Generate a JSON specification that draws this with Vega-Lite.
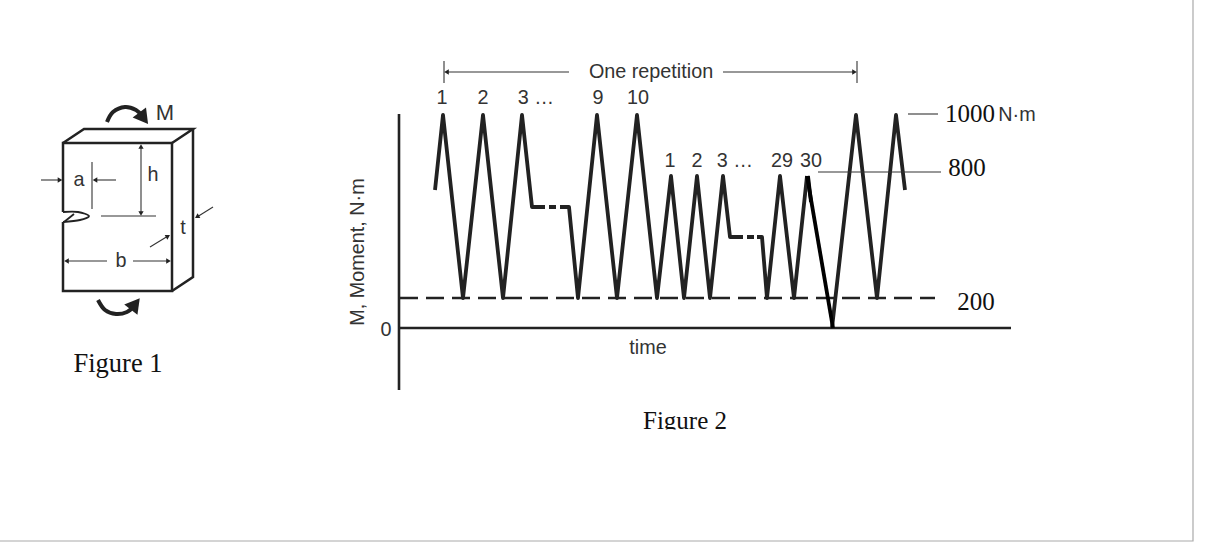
{
"$schema":"https://vega.github.io/schema/vega-lite/v6.json",
"width":1215,"height":545,"padding":0,"autosize":{"type":"none"},"background":"white",
"config":{"view":{"stroke":null}},
"datasets":{
"zig":[
{"path":"a","i":1,"x":435,"y":190},{"path":"a","i":2,"x":443,"y":115},{"path":"a","i":3,"x":463,"y":298},{"path":"a","i":4,"x":483,"y":115},{"path":"a","i":5,"x":503,"y":298},{"path":"a","i":6,"x":522,"y":115},{"path":"a","i":7,"x":532,"y":207},{"path":"a","i":8,"x":538,"y":207},
{"path":"b","i":1,"x":564,"y":207},{"path":"b","i":2,"x":569,"y":207},{"path":"b","i":3,"x":578,"y":298},{"path":"b","i":4,"x":597,"y":115},{"path":"b","i":5,"x":617,"y":298},{"path":"b","i":6,"x":637,"y":115},{"path":"b","i":7,"x":657,"y":298},{"path":"b","i":8,"x":671,"y":176},{"path":"b","i":9,"x":684,"y":298},{"path":"b","i":10,"x":697,"y":176},{"path":"b","i":11,"x":710,"y":298},{"path":"b","i":12,"x":723,"y":176},{"path":"b","i":13,"x":730,"y":237},{"path":"b","i":14,"x":736,"y":237},
{"path":"c","i":1,"x":757,"y":237},{"path":"c","i":2,"x":762,"y":237},{"path":"c","i":3,"x":767,"y":298},{"path":"c","i":4,"x":780,"y":176},{"path":"c","i":5,"x":794,"y":298},{"path":"c","i":6,"x":807,"y":176},
{"path":"d","i":1,"x":832,"y":328},{"path":"d","i":2,"x":856,"y":115},{"path":"d","i":3,"x":877,"y":298},{"path":"d","i":4,"x":896,"y":115},{"path":"d","i":5,"x":905,"y":190}
],
"dots":[
{"path":"a","i":1,"x":538,"y":207},{"path":"a","i":2,"x":564,"y":207},
{"path":"b","i":1,"x":736,"y":237},{"path":"b","i":2,"x":757,"y":237}
],
"black":[
{"path":"a","i":1,"x":807,"y":176},{"path":"a","i":2,"x":833,"y":328},
{"path":"b","i":1,"x":808,"y":176},{"path":"b","i":2,"x":811,"y":202}
],
"levels":[{"i":1,"x":400,"y":298},{"i":2,"x":935,"y":298}],
"axes":[
{"path":"y","i":1,"x":399,"y":114},{"path":"y","i":2,"x":399,"y":390},
{"path":"x","i":1,"x":399,"y":328},{"path":"x","i":2,"x":1011,"y":328}
],
"thin":[
{"path":"r1","i":1,"x":444,"y":61},{"path":"r1","i":2,"x":444,"y":83},
{"path":"r2","i":1,"x":857,"y":61},{"path":"r2","i":2,"x":857,"y":83},
{"path":"r3","i":1,"x":446,"y":72},{"path":"r3","i":2,"x":569,"y":72},
{"path":"r4","i":1,"x":723,"y":72},{"path":"r4","i":2,"x":855,"y":72},
{"path":"l1","i":1,"x":908,"y":114},{"path":"l1","i":2,"x":938,"y":114},
{"path":"l2","i":1,"x":818,"y":172},{"path":"l2","i":2,"x":941,"y":172},
{"path":"a1","i":1,"x":41,"y":180},{"path":"a1","i":2,"x":60,"y":180},
{"path":"a2","i":1,"x":116,"y":180},{"path":"a2","i":2,"x":95,"y":180},
{"path":"a3","i":1,"x":92,"y":162},{"path":"a3","i":2,"x":92,"y":209},
{"path":"h1","i":1,"x":141,"y":146},{"path":"h1","i":2,"x":141,"y":214},
{"path":"h2","i":1,"x":101,"y":216},{"path":"h2","i":2,"x":156,"y":216},
{"path":"t1","i":1,"x":150,"y":247},{"path":"t1","i":2,"x":168,"y":236},
{"path":"t2","i":1,"x":213,"y":207},{"path":"t2","i":2,"x":197,"y":217},
{"path":"b1","i":1,"x":66,"y":261},{"path":"b1","i":2,"x":107,"y":261},
{"path":"b2","i":1,"x":133,"y":261},{"path":"b2","i":2,"x":169,"y":261}
],
"body":[
{"path":"f","i":1,"x":63,"y":212},{"path":"f","i":2,"x":63,"y":143},{"path":"f","i":3,"x":172,"y":143},{"path":"f","i":4,"x":172,"y":291},{"path":"f","i":5,"x":63,"y":291},{"path":"f","i":6,"x":63,"y":222},
{"path":"t","i":1,"x":63,"y":143},{"path":"t","i":2,"x":84,"y":129},{"path":"t","i":3,"x":193,"y":129},{"path":"t","i":4,"x":172,"y":143},
{"path":"s","i":1,"x":193,"y":129},{"path":"s","i":2,"x":193,"y":277},{"path":"s","i":3,"x":172,"y":291}
],
"notch":[
{"path":"n1","i":1,"x":63,"y":212},{"path":"n1","i":2,"x":78,"y":212},{"path":"n1","i":3,"x":89,"y":216},{"path":"n1","i":4,"x":80,"y":220},{"path":"n1","i":5,"x":63,"y":222},
{"path":"n2","i":1,"x":64,"y":222},{"path":"n2","i":2,"x":74,"y":214}
],
"curves":[
{"path":"top","i":1,"x":107,"y":122},{"path":"top","i":2,"x":113,"y":112},{"path":"top","i":3,"x":125,"y":107},{"path":"top","i":4,"x":136,"y":110},{"path":"top","i":5,"x":142,"y":116},
{"path":"bot","i":1,"x":98,"y":300},{"path":"bot","i":2,"x":105,"y":310},{"path":"bot","i":3,"x":116,"y":314},{"path":"bot","i":4,"x":127,"y":312},{"path":"bot","i":5,"x":134,"y":306}
],
"bigheads":[{"x":143.7,"y":118.3,"angle":143},{"x":135.3,"y":304,"angle":38}],
"heads":[
{"x":446.5,"y":72,"angle":270},{"x":854.5,"y":72,"angle":90},
{"x":60,"y":180,"angle":90},{"x":95,"y":180,"angle":270},
{"x":141,"y":146.5,"angle":0},{"x":141,"y":213.5,"angle":180},
{"x":66.5,"y":261,"angle":270},{"x":168.5,"y":261,"angle":90},
{"x":168,"y":236.2,"angle":59},{"x":197,"y":216.8,"angle":239}
],
"sans":[
{"x":651,"y":72,"label":"One repetition"},
{"x":442,"y":98,"label":"1"},{"x":483,"y":98,"label":"2"},{"x":536,"y":98,"label":"3 …"},{"x":598,"y":98,"label":"9"},{"x":638,"y":98,"label":"10"},
{"x":670,"y":161,"label":"1"},{"x":697,"y":161,"label":"2"},{"x":735,"y":161,"label":"3 …"},{"x":782,"y":161,"label":"29"},{"x":811,"y":161,"label":"30"},
{"x":386,"y":330,"label":"0"},{"x":648,"y":348,"label":"time"},{"x":1017,"y":115,"label":"N·m"},
{"x":79,"y":180,"label":"a"},{"x":153,"y":175,"label":"h"},{"x":183,"y":228,"label":"t"},{"x":121,"y":261,"label":"b"}
],
"big":[{"x":165,"y":113,"label":"M"}],
"rotated":[{"x":358,"y":252,"label":"M, Moment, N·m"}],
"serif":[
{"x":685,"y":421,"label":"Figure 2"},
{"x":970,"y":114,"label":"1000"},{"x":967,"y":168,"label":"800"},{"x":976,"y":302,"label":"200"}
],
"serif2":[{"x":118,"y":364,"label":"Figure 1"}],
"frame":[{"i":1,"x":0,"y":541},{"i":2,"x":1193,"y":541},{"i":3,"x":1193,"y":0}],
"mask":[{"x":635,"x2":735,"y":429.5,"y2":445}]
},
"encoding":{
"x":{"field":"x","type":"quantitative","scale":{"domain":[0,1215],"nice":false,"zero":false},"axis":null},
"y":{"field":"y","type":"quantitative","scale":{"domain":[545,0],"nice":false,"zero":false},"axis":null}
},
"layer":[
{"data":{"name":"frame"},"mark":{"type":"line","stroke":"#aaaaaa","strokeWidth":1.2,"clip":false},"encoding":{"order":{"field":"i"}}},
{"data":{"name":"axes"},"mark":{"type":"line","stroke":"#222222","strokeWidth":2.6},"encoding":{"detail":{"field":"path"},"order":{"field":"i"}}},
{"data":{"name":"levels"},"mark":{"type":"line","stroke":"#222222","strokeWidth":2.4,"strokeDash":[18,8]},"encoding":{"order":{"field":"i"}}},
{"data":{"name":"zig"},"mark":{"type":"line","stroke":"#222222","strokeWidth":3.8,"strokeJoin":"round"},"encoding":{"detail":{"field":"path"},"order":{"field":"i"}}},
{"data":{"name":"dots"},"mark":{"type":"line","stroke":"#222222","strokeWidth":3.8,"strokeDash":[7,4]},"encoding":{"detail":{"field":"path"},"order":{"field":"i"}}},
{"data":{"name":"black"},"mark":{"type":"line","stroke":"#000000","strokeWidth":3.8,"strokeJoin":"round"},"encoding":{"detail":{"field":"path"},"order":{"field":"i"}}},
{"data":{"name":"thin"},"mark":{"type":"line","stroke":"#333333","strokeWidth":1.1},"encoding":{"detail":{"field":"path"},"order":{"field":"i"}}},
{"data":{"name":"body"},"mark":{"type":"line","stroke":"#222222","strokeWidth":2.5},"encoding":{"detail":{"field":"path"},"order":{"field":"i"}}},
{"data":{"name":"notch"},"mark":{"type":"line","stroke":"#222222","strokeWidth":1.8,"interpolate":"cardinal"},"encoding":{"detail":{"field":"path"},"order":{"field":"i"}}},
{"data":{"name":"curves"},"mark":{"type":"line","stroke":"#222222","strokeWidth":4,"interpolate":"cardinal"},"encoding":{"detail":{"field":"path"},"order":{"field":"i"}}},
{"data":{"name":"bigheads"},"mark":{"type":"point","shape":"triangle-up","filled":true,"color":"#222222","opacity":1,"size":280},"encoding":{"angle":{"field":"angle","type":"quantitative","scale":null}}},
{"data":{"name":"heads"},"mark":{"type":"point","shape":"triangle-up","filled":true,"color":"#222222","opacity":1,"size":28},"encoding":{"angle":{"field":"angle","type":"quantitative","scale":null}}},
{"data":{"name":"sans"},"mark":{"type":"text","font":"Liberation Sans","fontSize":19.8,"color":"#333333","align":"center","baseline":"middle"},"encoding":{"text":{"field":"label"}}},
{"data":{"name":"big"},"mark":{"type":"text","font":"Liberation Sans","fontSize":22,"color":"#333333","align":"center","baseline":"middle"},"encoding":{"text":{"field":"label"}}},
{"data":{"name":"rotated"},"mark":{"type":"text","font":"Liberation Sans","fontSize":19.8,"color":"#333333","align":"center","baseline":"middle","angle":270},"encoding":{"text":{"field":"label"}}},
{"data":{"name":"serif"},"mark":{"type":"text","font":"Liberation Serif","fontSize":25,"color":"#111111","align":"center","baseline":"middle"},"encoding":{"text":{"field":"label"}}},
{"data":{"name":"serif2"},"mark":{"type":"text","font":"Liberation Serif","fontSize":26.5,"color":"#111111","align":"center","baseline":"middle"},"encoding":{"text":{"field":"label"}}},
{"data":{"name":"mask"},"mark":{"type":"rect","color":"white"},"encoding":{"x2":{"field":"x2"},"y2":{"field":"y2"}}}
]
}
